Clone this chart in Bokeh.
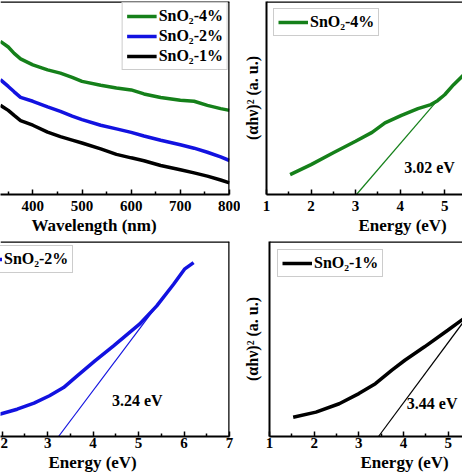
from bokeh.plotting import figure
from bokeh.models import Range1d, FixedTicker, Label, Span, Legend, LegendItem, LinearAxis, Title
from bokeh.layouts import column, row
from bokeh.embed import file_html
from bokeh.resources import INLINE

FONT = "Liberation Serif"
GREEN = "#15801a"
BLUE = "#1212e0"
BLACK = "#000000"

# ---- Panel (a): absorbance vs wavelength ----
wavelength = [334, 350, 362, 375, 400, 430, 456, 480, 500, 538, 570, 600, 626, 660, 700, 728, 755, 782, 800]
abs_4 = [0.793, 0.764, 0.731, 0.703, 0.672, 0.646, 0.629, 0.607, 0.586, 0.566, 0.552, 0.542, 0.521, 0.503, 0.488, 0.483, 0.462, 0.445, 0.436]
abs_2 = [0.595, 0.560, 0.532, 0.503, 0.483, 0.454, 0.431, 0.406, 0.388, 0.359, 0.340, 0.322, 0.303, 0.281, 0.258, 0.240, 0.219, 0.195, 0.176]
abs_1 = [0.462, 0.436, 0.410, 0.383, 0.359, 0.323, 0.300, 0.282, 0.267, 0.236, 0.208, 0.190, 0.175, 0.150, 0.128, 0.112, 0.095, 0.075, 0.060]
series_labels = ["SnO\u2082-4%", "SnO\u2082-2%", "SnO\u2082-1%"]
wl_ticks = [300, 400, 500, 600, 700, 800]
wl_minor = [350, 450, 550, 650, 750]

# ---- Tauc plots ----
energy_4 = [1.53, 2.0, 2.5, 3.0, 3.37, 3.66, 4.03, 4.4, 4.69, 4.84, 5.0, 5.2, 5.43, 5.65, 5.9, 6.15]
ahv_4 = [0.103, 0.155, 0.216, 0.276, 0.322, 0.371, 0.410, 0.445, 0.466, 0.486, 0.517, 0.569, 0.621, 0.655, 0.700, 0.730]
tangent_4_x = [3.02, 4.9]
tangent_4_y = [0.0, 0.504]

energy_2 = [1.55, 1.75, 1.96, 2.33, 2.70, 3.04, 3.35, 3.65, 4.04, 4.45, 5.02, 5.40, 5.77, 6.01, 6.21]
ahv_2 = [0.100, 0.106, 0.115, 0.140, 0.171, 0.209, 0.251, 0.311, 0.388, 0.465, 0.576, 0.670, 0.781, 0.858, 0.892]
tangent_2_x = [3.24, 5.40]
tangent_2_y = [0.0, 0.670]

energy_1 = [1.53, 2.04, 2.56, 3.0, 3.37, 3.74, 4.03, 4.47, 4.99, 5.35, 5.58, 5.85, 6.1]
ahv_1 = [0.099, 0.125, 0.168, 0.220, 0.271, 0.340, 0.391, 0.460, 0.545, 0.605, 0.674, 0.750, 0.820]
tangent_1_x = [3.44, 5.65]
tangent_1_y = [0.0, 0.683]

gap_labels = ["3.02 eV", "3.24 eV", "3.44 eV"]
e_ticks = [1, 2, 3, 4, 5, 6, 7]
e_minor = [1.5, 2.5, 3.5, 4.5, 5.5, 6.5]


def base_fig(w, h, xr, yr, bl, br, bt, bb):
    p = figure(width=w, height=h, x_range=Range1d(*xr), y_range=Range1d(*yr),
               output_backend="svg", toolbar_location=None,
               x_axis_location=None, y_axis_location=None,
               min_border_left=bl, min_border_right=br, min_border_top=bt, min_border_bottom=bb)
    p.grid.visible = False
    p.outline_line_color = None
    p.background_fill_color = "white"
    p.border_fill_color = "white"
    return p


def bottom_axis(p, ticks, minor, standoff, size):
    ax = LinearAxis(ticker=FixedTicker(ticks=ticks, minor_ticks=minor),
                    axis_line_width=2, axis_line_color="black",
                    major_tick_in=5, major_tick_out=0, minor_tick_in=3, minor_tick_out=0,
                    major_tick_line_width=1.5, minor_tick_line_width=1.5,
                    major_label_text_font=FONT, major_label_text_font_style="bold",
                    major_label_text_font_size=size, major_label_text_color="black",
                    major_label_standoff=standoff)
    p.add_layout(ax, "below")


def left_axis(p, standoff):
    ax = LinearAxis(ticker=FixedTicker(ticks=[]), axis_line_width=2, axis_line_color="black",
                    major_tick_in=0, major_tick_out=0, minor_tick_in=0, minor_tick_out=0,
                    major_label_text_font_size="0px", major_label_standoff=0,
                    axis_label="(\u03b1h\u03bd)\u00b2 (a. u.)", axis_label_text_font=FONT,
                    axis_label_text_font_style="bold", axis_label_text_font_size="16px",
                    axis_label_standoff=standoff, axis_label_text_color="black")
    p.add_layout(ax, "left")


def add_border(p, top=None, right=None):
    if top is not None:
        p.add_layout(Span(location=top, dimension="width", line_color="black", line_width=2.5))
    if right is not None:
        p.add_layout(Span(location=right, dimension="height", line_color="black", line_width=2.5))


def xlabel(p, text, offset):
    p.add_layout(Title(text=text, align="left", offset=offset, standoff=0,
                       text_font=FONT, text_font_style="bold", text_font_size="17px",
                       text_color="black"), "below")


def note(p, text, x, y):
    p.add_layout(Label(x=x, y=y, text=text, text_align="center", text_baseline="middle",
                       text_font=FONT, text_font_style="bold", text_font_size="16px",
                       text_color="black"))


def make_legend(p, items, location, margin):
    lg = Legend(items=items, location=location, margin=margin,
                label_text_font=FONT, label_text_font_style="bold", label_text_font_size="16px",
                label_text_color="black", glyph_width=30, glyph_height=16, label_height=16,
                label_standoff=2, spacing=2, padding=4,
                border_line_color="#9a9a9a", border_line_width=1,
                background_fill_color="white", background_fill_alpha=1.0)
    p.add_layout(lg)


# Top-left: absorbance
fA = base_fig(240, 237, (334.2, 800), (0, 1), 0, 11, 1, 43)
bottom_axis(fA, wl_ticks, wl_minor, 6, "15px")
xlabel(fA, "Wavelength (nm)", 31)
add_border(fA, top=1, right=800)
rA4 = fA.line(wavelength, abs_4, line_color=GREEN, line_width=3.5)
rA2 = fA.line(wavelength, abs_2, line_color=BLUE, line_width=3.5)
rA1 = fA.line(wavelength, abs_1, line_color=BLACK, line_width=3.5)
make_legend(fA, [LegendItem(label=series_labels[0], renderers=[rA4]),
                 LegendItem(label=series_labels[1], renderers=[rA2]),
                 LegendItem(label=series_labels[2], renderers=[rA1])], "top_right", 1)

# Top-right: SnO2-4%
fB = base_fig(222, 237, (1, 5.40), (0, 1), 23, 0, 1, 43)
bottom_axis(fB, e_ticks, e_minor, 6, "15px")
xlabel(fB, "Energy (eV)", 92)
left_axis(fB, 6)
add_border(fB, top=1)
rB = fB.line(energy_4, ahv_4, line_color=GREEN, line_width=3.5)
fB.line(tangent_4_x, tangent_4_y, line_color=GREEN, line_width=1.2)
make_legend(fB, [LegendItem(label=series_labels[0], renderers=[rB])], "top_left", 7)
note(fB, gap_labels[0], 4.66, 0.14)

# Bottom-left: SnO2-2%
fC = base_fig(240, 237, (1.963, 7), (0, 1), 0, 11, 4, 38)
bottom_axis(fC, e_ticks, e_minor, 1, "15px")
xlabel(fC, "Energy (eV)", 48)
add_border(fC, top=1, right=7)
rC = fC.line(energy_2, ahv_2, line_color=BLUE, line_width=3.5)
fC.line(tangent_2_x, tangent_2_y, line_color=BLUE, line_width=1.2)
make_legend(fC, [LegendItem(label=series_labels[1], renderers=[rC])], (-33, 163), 0)
note(fC, gap_labels[1], 4.97, 0.185)

# Bottom-right: SnO2-1%
fD = base_fig(222, 237, (1, 5.32), (0, 1), 26, 0, 4, 38)
bottom_axis(fD, e_ticks, e_minor, 1, "15px")
xlabel(fD, "Energy (eV)", 91)
left_axis(fD, 9)
add_border(fD, top=1)
rD = fD.line(energy_1, ahv_1, line_color=BLACK, line_width=3.5)
fD.line(tangent_1_x, tangent_1_y, line_color=BLACK, line_width=1.2)
make_legend(fD, [LegendItem(label=series_labels[2], renderers=[rD])], "top_left", 8)
note(fD, gap_labels[2], 4.64, 0.17)

layout = column(row(fA, fB, spacing=0), row(fC, fD, spacing=0), spacing=0)

with open("out.html", "w") as f:
    f.write(file_html(layout, INLINE))
